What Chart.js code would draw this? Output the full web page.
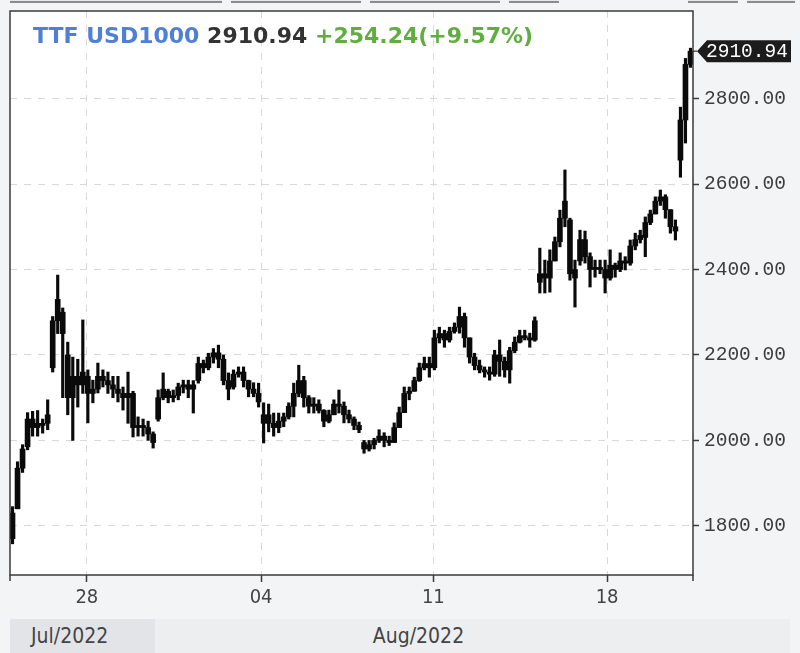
<!DOCTYPE html>
<html><head><meta charset="utf-8">
<script src="https://cdn.jsdelivr.net/npm/chart.js@4.4.1/dist/chart.umd.min.js"></script>
<style>
html,body{margin:0;padding:0;background:#f3f4f6;width:800px;height:653px;overflow:hidden;}
.tab{position:absolute;top:0;height:1px;background:#e6e7e9;border-bottom:2px solid #8c8c8c;}
#title{position:absolute;left:33px;top:25px;font:bold 22px 'DejaVu Sans',sans-serif;line-height:22px;white-space:nowrap;z-index:3;}
#title .s{color:#4f80d6}#title .p{color:#333}#title .c{color:#5fae3f}
.strip{position:absolute;top:619px;height:34px;font:21px 'Liberation Sans Narrow','DejaVu Sans Condensed',sans-serif;color:#444;line-height:34px;}
#c{position:absolute;left:0;top:0;z-index:2;}
</style></head><body>
<div class="tab" style="left:10px;width:212px"></div>
<div class="tab" style="left:231px;width:130px"></div>
<div class="tab" style="left:370px;width:130px"></div>
<div class="tab" style="left:509px;width:50px"></div>
<div class="tab" style="left:688px;width:50px"></div>
<div class="tab" style="left:747px;width:48px"></div>
<div id="title"><span class="s">TTF USD1000</span> <span class="p">2910.94</span> <span class="c">+254.24(+9.57%)</span></div>
<div class="strip" style="left:10px;width:145px;background:#e3e4e7;"><span style="padding-left:21px">Jul/2022</span></div>
<div class="strip" style="left:155px;width:635px;background:#eceef0;text-align:center;"><span style="position:relative;left:-54px">Aug/2022</span></div>
<canvas id="c" width="800" height="653"></canvas>
<script>
// OHLC bars (one slot each, left to right)
const opens  = [1770,1840,1935,1985,2050,2030,2035,2040,2170,2280,2300,2200,2100,2150,2130,2150,2110,2120,2150,2140,2130,2120,2110,2100,2110,2030,2035,2030,2015,2050,2100,2115,2100,2105,2125,2130,2120,2140,2180,2170,2195,2205,2190,2140,2125,2155,2160,2140,2120,2110,2040,2060,2040,2030,2045,2055,2080,2110,2140,2100,2080,2085,2070,2045,2060,2085,2080,2060,2050,2035,1995,1980,1990,2000,2010,2000,1995,2030,2065,2110,2115,2140,2170,2180,2170,2240,2250,2235,2255,2265,2290,2240,2195,2175,2165,2160,2155,2200,2185,2165,2210,2230,2245,2240,2235,2370,2390,2380,2420,2465,2520,2516,2380,2420,2470,2430,2400,2405,2400,2380,2410,2400,2420,2415,2455,2470,2475,2510,2530,2560,2570,2540,2500,2656,2750,2880];
const highs  = [1845,1950,1990,2065,2068,2070,2050,2095,2290,2387,2310,2230,2195,2190,2282,2165,2141,2181,2165,2160,2150,2150,2125,2160,2115,2055,2050,2045,2020,2118,2158,2120,2118,2134,2141,2141,2140,2195,2188,2204,2215,2223,2200,2158,2165,2172,2172,2141,2135,2134,2088,2085,2064,2064,2064,2088,2134,2176,2150,2105,2100,2095,2072,2071,2095,2118,2090,2071,2055,2043,2000,2000,2005,2025,2018,2010,2041,2078,2125,2125,2148,2181,2195,2195,2258,2265,2258,2265,2275,2312,2298,2240,2204,2188,2172,2172,2211,2235,2195,2218,2242,2258,2258,2251,2289,2450,2422,2446,2476,2539,2633,2520,2422,2492,2490,2439,2422,2422,2422,2446,2415,2439,2430,2469,2485,2492,2523,2539,2570,2586,2575,2540,2516,2780,2894,2918];
const lows   = [1758,1840,1925,1978,2010,2010,2017,2025,2160,2250,2100,2060,2000,2078,2110,2041,2088,2111,2125,2110,2100,2090,2071,2040,2008,2010,2010,2000,1982,2045,2095,2088,2090,2095,2111,2100,2064,2134,2158,2165,2181,2170,2130,2095,2120,2148,2125,2102,2102,2078,1994,2020,2010,2018,2032,2050,2055,2102,2078,2064,2064,2064,2032,2041,2060,2064,2041,2041,2025,2018,1970,1975,1980,1995,1985,1988,1995,2030,2065,2095,2115,2138,2165,2148,2165,2228,2218,2230,2251,2251,2218,2181,2165,2158,2148,2141,2150,2150,2148,2134,2205,2228,2235,2218,2232,2345,2345,2347,2420,2453,2500,2375,2312,2410,2415,2359,2382,2390,2345,2375,2382,2395,2399,2410,2446,2462,2430,2505,2530,2550,2520,2485,2469,2616,2696,2873];
const closes = [1830,1935,1980,2050,2030,2040,2040,2060,2280,2330,2250,2100,2150,2130,2160,2110,2120,2150,2140,2130,2120,2110,2100,2110,2030,2035,2030,2015,1995,2100,2120,2100,2105,2125,2130,2120,2130,2180,2170,2195,2205,2190,2140,2120,2155,2160,2140,2120,2110,2090,2060,2040,2030,2045,2055,2080,2110,2140,2100,2080,2085,2070,2045,2060,2085,2080,2060,2050,2035,2025,1980,1990,2000,2010,2000,1995,2030,2065,2110,2115,2140,2170,2180,2170,2240,2250,2235,2255,2265,2290,2240,2195,2175,2165,2160,2155,2200,2185,2165,2210,2230,2245,2240,2235,2280,2390,2380,2420,2465,2520,2560,2390,2400,2470,2430,2400,2405,2400,2380,2410,2400,2420,2415,2455,2470,2480,2510,2530,2560,2570,2540,2500,2490,2750,2880,2910.94];
// x-axis ticks (slot positions) and labels
const xTickPos = [14.8, 49.5, 83.8, 118.4];
const xTickLabels = ['28', '04', '11', '18'];
// y-axis ticks
const yTicks = [1800, 2000, 2200, 2400, 2600, 2800];
const lastPrice = 2910.94;

const wickData = highs.map((h, i) => ({x: i, y: [lows[i], h]}));
const bodyData = opens.map((o, i) => ({x: i, y: [o, closes[i]]}));

const framePlugin = {
  id: 'frame',
  beforeDraw(chart) {
    const a = chart.chartArea, ctx = chart.ctx;
    ctx.save(); ctx.fillStyle = '#ffffff';
    ctx.fillRect(a.left, a.top, a.right - a.left, a.bottom - a.top);
    ctx.restore();
  },
  afterDraw(chart) {
    const a = chart.chartArea, ctx = chart.ctx;
    ctx.save();
    ctx.strokeStyle = '#3a3a3a'; ctx.lineWidth = 1.5;
    ctx.strokeRect(a.left, a.top, a.right - a.left, a.bottom - a.top);
    ctx.beginPath();
    ctx.moveTo(a.left, a.bottom); ctx.lineTo(a.left, a.bottom + 6);
    ctx.moveTo(a.right, a.bottom); ctx.lineTo(a.right, a.bottom + 6);
    ctx.stroke();
    const y = chart.scales.y.getPixelForValue(lastPrice);
    const x0 = a.right + 4;
    ctx.fillStyle = '#1c1c1c';
    ctx.beginPath();
    ctx.moveTo(x0, y);
    ctx.lineTo(x0 + 10, y - 11);
    ctx.lineTo(791, y - 11);
    ctx.lineTo(791, y + 11);
    ctx.lineTo(x0 + 10, y + 11);
    ctx.closePath(); ctx.fill();
    ctx.beginPath(); ctx.strokeStyle = '#333'; ctx.lineWidth = 1.2;
    ctx.moveTo(a.right, y); ctx.lineTo(x0, y); ctx.stroke();
    ctx.fillStyle = '#ffffff';
    ctx.font = '19.5px "Liberation Mono", "DejaVu Sans Mono", monospace';
    ctx.textBaseline = 'middle'; ctx.textAlign = 'left';
    ctx.fillText(lastPrice.toFixed(2), 706, y + 1);
    ctx.restore();
  }
};

new Chart(document.getElementById('c'), {
  type: 'bar',
  data: {
    datasets: [
      {data: wickData, backgroundColor: '#0a0a0a', barThickness: 2.5, grouped: false, order: 2},
      {data: bodyData, backgroundColor: '#0a0a0a', barThickness: 5, grouped: false, order: 1}
    ]
  },
  options: {
    responsive: false, animation: false,
    layout: {padding: {left: 10, top: 11, right: 0, bottom: 0}},
    plugins: {legend: {display: false}, tooltip: {enabled: false}},
    scales: {
      x: {
        type: 'linear', min: -0.5, max: 135.5, offset: false,
        afterBuildTicks(s) { s.ticks = xTickPos.map(v => ({value: v})); },
        afterFit(s) { s.height = 78; s.paddingLeft = 0; s.paddingRight = 0; },
        grid: {offset: false, color: '#d9d9d9', lineWidth: 1, tickLength: 7, tickColor: '#3a3a3a', tickWidth: 1.5},
        border: {display: false, dash: [7, 7]},
        ticks: {
          autoSkip: false, maxRotation: 0, padding: 4, color: '#444',
          font: {family: "'Liberation Sans Narrow','DejaVu Sans Condensed',sans-serif", size: 20},
          callback: (v, i) => xTickLabels[i]
        }
      },
      y: {
        type: 'linear', position: 'right', min: 1685, max: 3005,
        afterBuildTicks(s) { s.ticks = yTicks.map(v => ({value: v})); },
        afterFit(s) { s.width = 107; s.paddingTop = 0; s.paddingBottom = 0; },
        grid: {color: '#d9d9d9', lineWidth: 1, tickLength: 6, tickColor: '#3a3a3a', tickWidth: 1.5},
        border: {display: false, dash: [7, 7]},
        ticks: {
          padding: 5, color: '#3c3c3c',
          font: {family: "'Liberation Mono','DejaVu Sans Mono',monospace", size: 19.5},
          callback: v => Number(v).toFixed(2)
        }
      }
    }
  },
  plugins: [framePlugin]
});
</script>
</body></html>
